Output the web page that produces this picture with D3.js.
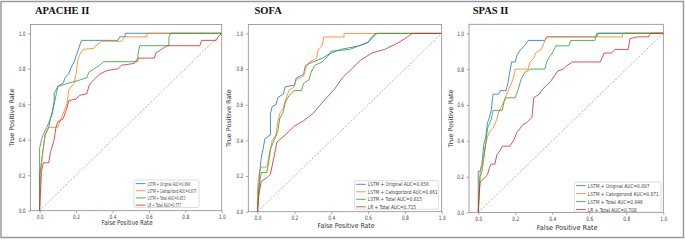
<!DOCTYPE html>
<html>
<head>
<meta charset="utf-8">
<script src="https://cdn.jsdelivr.net/npm/d3@7"></script>
<style>
  body { margin: 0; background: #fff; }
  svg { display: block; }
</style>
</head>
<body>
<div id="chart"></div>
<script>
// ---- data ----
const titles = ["APACHE II", "SOFA", "SPAS II"];
const modelNames = ["LSTM + Original", "LSTM + Categorized", "LSTM + Total", "LR + Total"];
const aucApache = [0.898, 0.877, 0.853, 0.777];
const aucSofa = [0.858, 0.861, 0.815, 0.715];
const aucSaps = [0.897, 0.871, 0.846, 0.708];
const tickValues = [0.0, 0.2, 0.4, 0.6, 0.8, 1.0];
const colors = ["#1f77b4", "#ff7f0e", "#2ca02c", "#d62728"];

// ROC points [fpr, tpr]
const apacheOriginal = [[0,0],[0,0.2],[0.01,0.27],[0.02,0.35],[0.03,0.43],[0.05,0.47],[0.06,0.52],[0.07,0.55],[0.08,0.62],[0.08,0.66],[0.1,0.7],[0.13,0.72],[0.14,0.75],[0.16,0.77],[0.17,0.8],[0.19,0.84],[0.21,0.9],[0.23,0.96],[0.43,0.96],[0.44,0.98],[0.47,0.98],[0.47,1.0],[1,1]];
const apacheCategorized = [[0,0],[0,0.1],[0.01,0.27],[0.02,0.35],[0.03,0.42],[0.05,0.47],[0.1,0.47],[0.11,0.5],[0.13,0.55],[0.15,0.6],[0.16,0.68],[0.19,0.72],[0.2,0.77],[0.21,0.85],[0.22,0.88],[0.24,0.91],[0.3,0.915],[0.31,0.93],[0.34,0.955],[0.45,0.955],[0.47,0.98],[0.59,0.98],[0.59,1.0],[1,1]];
const apacheTotal = [[0,0],[0,0.35],[0.01,0.4],[0.02,0.43],[0.04,0.47],[0.06,0.52],[0.08,0.6],[0.09,0.65],[0.1,0.7],[0.16,0.72],[0.2,0.73],[0.26,0.75],[0.27,0.78],[0.3,0.8],[0.33,0.82],[0.35,0.84],[0.54,0.84],[0.54,0.88],[0.55,0.93],[0.71,0.93],[0.71,0.98],[0.72,1.0],[1,1]];
const apacheLR = [[0,0],[0.01,0.22],[0.02,0.27],[0.05,0.27],[0.06,0.33],[0.08,0.4],[0.09,0.47],[0.1,0.5],[0.13,0.52],[0.15,0.58],[0.16,0.62],[0.2,0.63],[0.22,0.65],[0.26,0.66],[0.27,0.7],[0.28,0.72],[0.3,0.74],[0.33,0.77],[0.37,0.79],[0.43,0.8],[0.45,0.82],[0.52,0.83],[0.54,0.86],[0.63,0.86],[0.64,0.89],[0.67,0.91],[0.7,0.93],[0.88,0.93],[0.89,0.96],[0.97,0.96],[0.98,0.98],[1,1]];

const sofaOriginal = [[0,0],[0.01,0.2],[0.02,0.3],[0.03,0.35],[0.04,0.41],[0.07,0.43],[0.07,0.55],[0.08,0.59],[0.1,0.6],[0.11,0.64],[0.14,0.66],[0.15,0.7],[0.2,0.71],[0.21,0.75],[0.25,0.77],[0.26,0.82],[0.3,0.84],[0.35,0.86],[0.4,0.89],[0.45,0.91],[0.55,0.93],[0.6,0.95],[0.62,0.98],[0.65,1.0],[1,1]];
const sofaCategorized = [[0,0],[0,0.13],[0.01,0.22],[0.02,0.25],[0.05,0.25],[0.06,0.3],[0.07,0.35],[0.08,0.4],[0.1,0.43],[0.11,0.5],[0.12,0.55],[0.14,0.58],[0.15,0.62],[0.17,0.68],[0.2,0.7],[0.21,0.74],[0.25,0.76],[0.26,0.8],[0.28,0.84],[0.32,0.86],[0.33,0.91],[0.35,0.93],[0.36,0.98],[0.47,0.98],[0.47,1.0],[1,1]];
const sofaTotal = [[0,0],[0.01,0.15],[0.02,0.22],[0.05,0.22],[0.06,0.27],[0.07,0.35],[0.09,0.4],[0.11,0.45],[0.12,0.52],[0.14,0.56],[0.15,0.61],[0.17,0.65],[0.2,0.68],[0.24,0.68],[0.25,0.72],[0.28,0.74],[0.29,0.78],[0.31,0.82],[0.35,0.84],[0.38,0.87],[0.4,0.9],[0.5,0.91],[0.55,0.93],[0.6,0.95],[0.63,0.98],[0.64,1.0],[1,1]];
const sofaLR = [[0,0],[0.005,0.08],[0.02,0.17],[0.05,0.19],[0.07,0.21],[0.09,0.31],[0.105,0.39],[0.15,0.43],[0.2,0.48],[0.25,0.51],[0.3,0.55],[0.35,0.61],[0.42,0.69],[0.46,0.75],[0.51,0.8],[0.56,0.85],[0.62,0.89],[0.69,0.91],[0.75,0.94],[0.8,0.97],[0.84,1.0],[1,1]];

const sapsOriginal = [[0,0],[0,0.23],[0.01,0.23],[0.02,0.27],[0.03,0.38],[0.04,0.42],[0.05,0.5],[0.06,0.53],[0.07,0.57],[0.08,0.66],[0.11,0.66],[0.12,0.68],[0.15,0.68],[0.16,0.72],[0.17,0.78],[0.18,0.84],[0.2,0.84],[0.21,0.88],[0.23,0.91],[0.25,0.93],[0.27,0.96],[0.36,0.96],[0.37,0.98],[0.64,0.98],[0.65,1.0],[1,1]];
const sapsCategorized = [[0,0],[0.005,0.15],[0.01,0.22],[0.02,0.27],[0.03,0.33],[0.04,0.38],[0.05,0.42],[0.06,0.45],[0.08,0.47],[0.1,0.52],[0.11,0.56],[0.13,0.6],[0.15,0.65],[0.17,0.7],[0.19,0.75],[0.2,0.8],[0.27,0.8],[0.28,0.84],[0.3,0.86],[0.31,0.89],[0.34,0.91],[0.37,0.98],[0.78,0.98],[0.78,1.0],[1,1]];
const sapsTotal = [[0,0],[0.01,0.2],[0.02,0.23],[0.03,0.3],[0.04,0.38],[0.05,0.47],[0.07,0.52],[0.08,0.57],[0.13,0.57],[0.14,0.62],[0.15,0.64],[0.2,0.64],[0.21,0.67],[0.22,0.7],[0.23,0.74],[0.25,0.78],[0.28,0.8],[0.36,0.8],[0.37,0.84],[0.38,0.86],[0.4,0.89],[0.42,0.93],[0.49,0.93],[0.5,0.96],[0.63,0.96],[0.64,1.0],[1,1]];
const sapsLR = [[0,0],[0.005,0.1],[0.01,0.17],[0.03,0.19],[0.05,0.21],[0.06,0.25],[0.07,0.27],[0.09,0.27],[0.1,0.32],[0.12,0.35],[0.13,0.37],[0.17,0.37],[0.19,0.4],[0.21,0.45],[0.22,0.46],[0.24,0.49],[0.26,0.5],[0.29,0.53],[0.3,0.64],[0.33,0.66],[0.35,0.69],[0.37,0.71],[0.39,0.73],[0.41,0.76],[0.43,0.79],[0.46,0.8],[0.48,0.82],[0.51,0.84],[0.66,0.84],[0.68,0.89],[0.72,0.89],[0.74,0.91],[0.81,0.91],[0.82,0.97],[0.86,0.98],[0.92,0.98],[0.93,1.0],[1,1]];

const panelCurves = [
  [apacheOriginal, apacheCategorized, apacheTotal, apacheLR],
  [sofaOriginal, sofaCategorized, sofaTotal, sofaLR],
  [sapsOriginal, sapsCategorized, sapsTotal, sapsLR]
];
const panelAuc = [aucApache, aucSofa, aucSaps];

// ---- layout (pixel positions of each panel) ----
const W = 685, H = 240;
const layout = [
  { left: 30.5, right: 221.7, top: 24.4, bottom: 210.7, titleX: 35, ylabX: 14, xlabY: 225,
    xlabW: 51, leg: { x: 134, y: 180, w: 65, h: 27.5, textW: 49 } },
  { left: 248.3, right: 441.7, top: 24.5, bottom: 211.7, titleX: 254.5, ylabX: 231, xlabY: 228,
    xlabW: 57, leg: { x: 354.3, y: 180.7, w: 84, h: 28.5, textW: 70 } },
  { left: 469, right: 663.3, top: 24.3, bottom: 212.5, titleX: 472.7, ylabX: 453, xlabY: 230,
    xlabW: 61, leg: { x: 574.3, y: 182, w: 86.7, h: 30, textW: 71 } }
];

const svg = d3.select("#chart")
  .append("svg")
  .attr("width", W)
  .attr("height", H)
  .attr("viewBox", `0 0 ${W} ${H}`);

svg.append("rect").attr("width", W).attr("height", H).attr("fill", "#fff");

// outer frame of the figure
svg.append("rect")
  .attr("x", 1).attr("y", 1.5)
  .attr("width", W - 2.5).attr("height", H - 4)
  .attr("fill", "none")
  .attr("stroke", "#9a9a9a")
  .attr("stroke-width", 1.5);

// squeeze a text horizontally (the source picture is compressed sideways)
const squeeze = (sel, k) => {
  sel.each(function () {
    const len = this.getComputedTextLength();
    d3.select(this).attr("textLength", len * k).attr("lengthAdjust", "spacingAndGlyphs");
  });
};

const sansFont = "'DejaVu Sans', sans-serif";

layout.forEach((L, p) => {
  const g = svg.append("g");

  const x = d3.scaleLinear().domain([-0.05, 1.0]).range([L.left, L.right]);
  const y = d3.scaleLinear().domain([0, 1.05]).range([L.bottom, L.top]);

  // title
  g.append("text")
    .attr("x", L.titleX)
    .attr("y", 14.3)
    .style("font-family", "'Liberation Serif', 'Times New Roman', serif")
    .style("font-weight", "bold")
    .style("font-size", "10.5px")
    .attr("fill", "#111")
    .text(titles[p]);

  // chance diagonal
  g.append("path")
    .datum([[0, 0], [1, 1]])
    .attr("fill", "none")
    .attr("stroke", "#808080")
    .attr("stroke-width", 0.6)
    .attr("stroke-dasharray", "2,1.6")
    .attr("d", d3.line().x(d => x(d[0])).y(d => y(d[1])));

  // ROC curves
  panelCurves[p].forEach((curve, i) => {
    g.append("path")
      .datum(curve)
      .attr("fill", "none")
      .attr("stroke", colors[i])
      .attr("stroke-opacity", 0.8)
      .attr("stroke-width", 1)
      .attr("stroke-linejoin", "round")
      .attr("d", d3.line().x(d => x(d[0])).y(d => y(d[1])));
  });

  // axes
  const xAxis = g.append("g")
    .attr("transform", `translate(0,${L.bottom})`)
    .call(d3.axisBottom(x).tickValues(tickValues).tickSize(2.5).tickPadding(1.5).tickFormat(d3.format(".1f")));
  const yAxis = g.append("g")
    .attr("transform", `translate(${L.left},0)`)
    .call(d3.axisLeft(y).tickValues(tickValues).tickSize(2.5).tickPadding(2.5).tickFormat(d3.format(".1f")));
  [xAxis, yAxis].forEach(a => {
    a.select(".domain").remove();
    a.selectAll(".tick line").attr("stroke", "#777").attr("stroke-width", 0.6);
    a.selectAll(".tick text")
      .attr("fill", "#444")
      .style("font-family", sansFont)
      .style("font-size", "6px");
  });
  squeeze(xAxis.selectAll(".tick text"), 0.72);
  squeeze(yAxis.selectAll(".tick text"), 0.72);

  // frame of the axes
  g.append("rect")
    .attr("x", L.left).attr("y", L.top)
    .attr("width", L.right - L.left).attr("height", L.bottom - L.top)
    .attr("fill", "none")
    .attr("stroke", "#8c8c8c")
    .attr("stroke-width", 0.8);

  // axis titles
  const xl = g.append("text")
    .attr("x", (L.left + L.right) / 2 + 1)
    .attr("y", L.xlabY)
    .attr("text-anchor", "middle")
    .style("font-family", sansFont)
    .style("font-size", "7px")
    .attr("fill", "#333")
    .text("False Positive Rate");
  xl.attr("textLength", L.xlabW).attr("lengthAdjust", "spacingAndGlyphs");

  g.append("text")
    .attr("transform", `translate(${L.ylabX},${(L.top + L.bottom) / 2}) rotate(-90)`)
    .attr("text-anchor", "middle")
    .style("font-family", sansFont)
    .style("font-size", "6.5px")
    .attr("fill", "#333")
    .text("True Positive Rate");

  // legend
  const lg = g.append("g").attr("transform", `translate(${L.leg.x},${L.leg.y})`);
  lg.append("rect")
    .attr("width", L.leg.w).attr("height", L.leg.h)
    .attr("rx", 1.5)
    .attr("fill", "#fff")
    .attr("fill-opacity", 0.85)
    .attr("stroke", "#c8c8c8")
    .attr("stroke-width", 0.6);
  const step = (L.leg.h - 6) / 3;
  const items = lg.selectAll(".item")
    .data(modelNames)
    .enter()
    .append("g")
    .attr("class", "item")
    .attr("transform", (d, i) => `translate(0,${3.6 + i * step})`);
  items.append("line")
    .attr("x1", 1.8).attr("x2", 11.5)
    .attr("stroke", (d, i) => colors[i])
    .attr("stroke-opacity", 0.8)
    .attr("stroke-width", 1);
  const texts = items.append("text")
    .attr("x", 13.5)
    .attr("dy", "0.35em")
    .style("font-family", sansFont)
    .style("font-size", "5.5px")
    .attr("fill", "#444")
    .text((d, i) => `${d} AUC=${panelAuc[p][i].toFixed(3)}`);
  let maxLen = 0;
  texts.each(function () { maxLen = Math.max(maxLen, this.getComputedTextLength()); });
  squeeze(texts, L.leg.textW / maxLen);
});
</script>
</body>
</html>
